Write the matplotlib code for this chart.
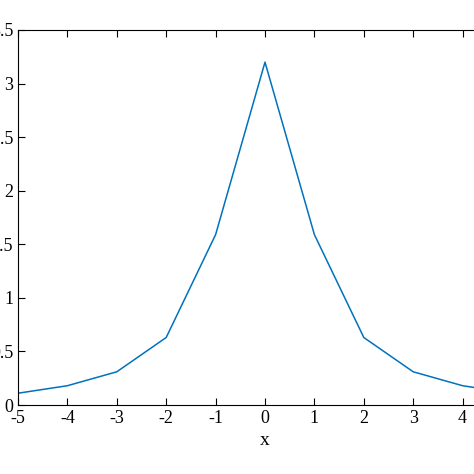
import matplotlib
matplotlib.use("Agg")
import matplotlib.pyplot as plt

x = [-5, -4, -3, -2, -1, 0, 1, 2, 3, 4, 5]
y = [0.11, 0.18, 0.31, 0.63, 1.59, 3.2, 1.59, 0.63, 0.31, 0.18, 0.11]
yticks = [0, 0.5, 1, 1.5, 2, 2.5, 3, 3.5]
ylabels = ["0", "0.5", "1", "1.5", "2", "2.5", "3", "3.5"]

plt.rcParams['font.family'] = ['Liberation Serif']
fig = plt.figure(figsize=(4.74, 4.74), dpi=100)
ax = fig.add_axes([18/474, 69/474, 494/474, 375/474])
ax.plot(x, y, color='#0072BD', lw=1.1)
ax.set_xlim(-5, 5)
ax.set_ylim(0, 3.5)
ax.set_xticks(range(-5, 6))
ax.set_xticklabels([str(v) for v in range(-5, 6)])
ax.set_yticks(yticks)
ax.set_yticklabels(ylabels)
ax.tick_params(direction='in', labelsize=13, top=True, right=True, length=5)
ax.set_xlabel('x', fontsize=14)
fig.savefig('out.png', dpi=100)
